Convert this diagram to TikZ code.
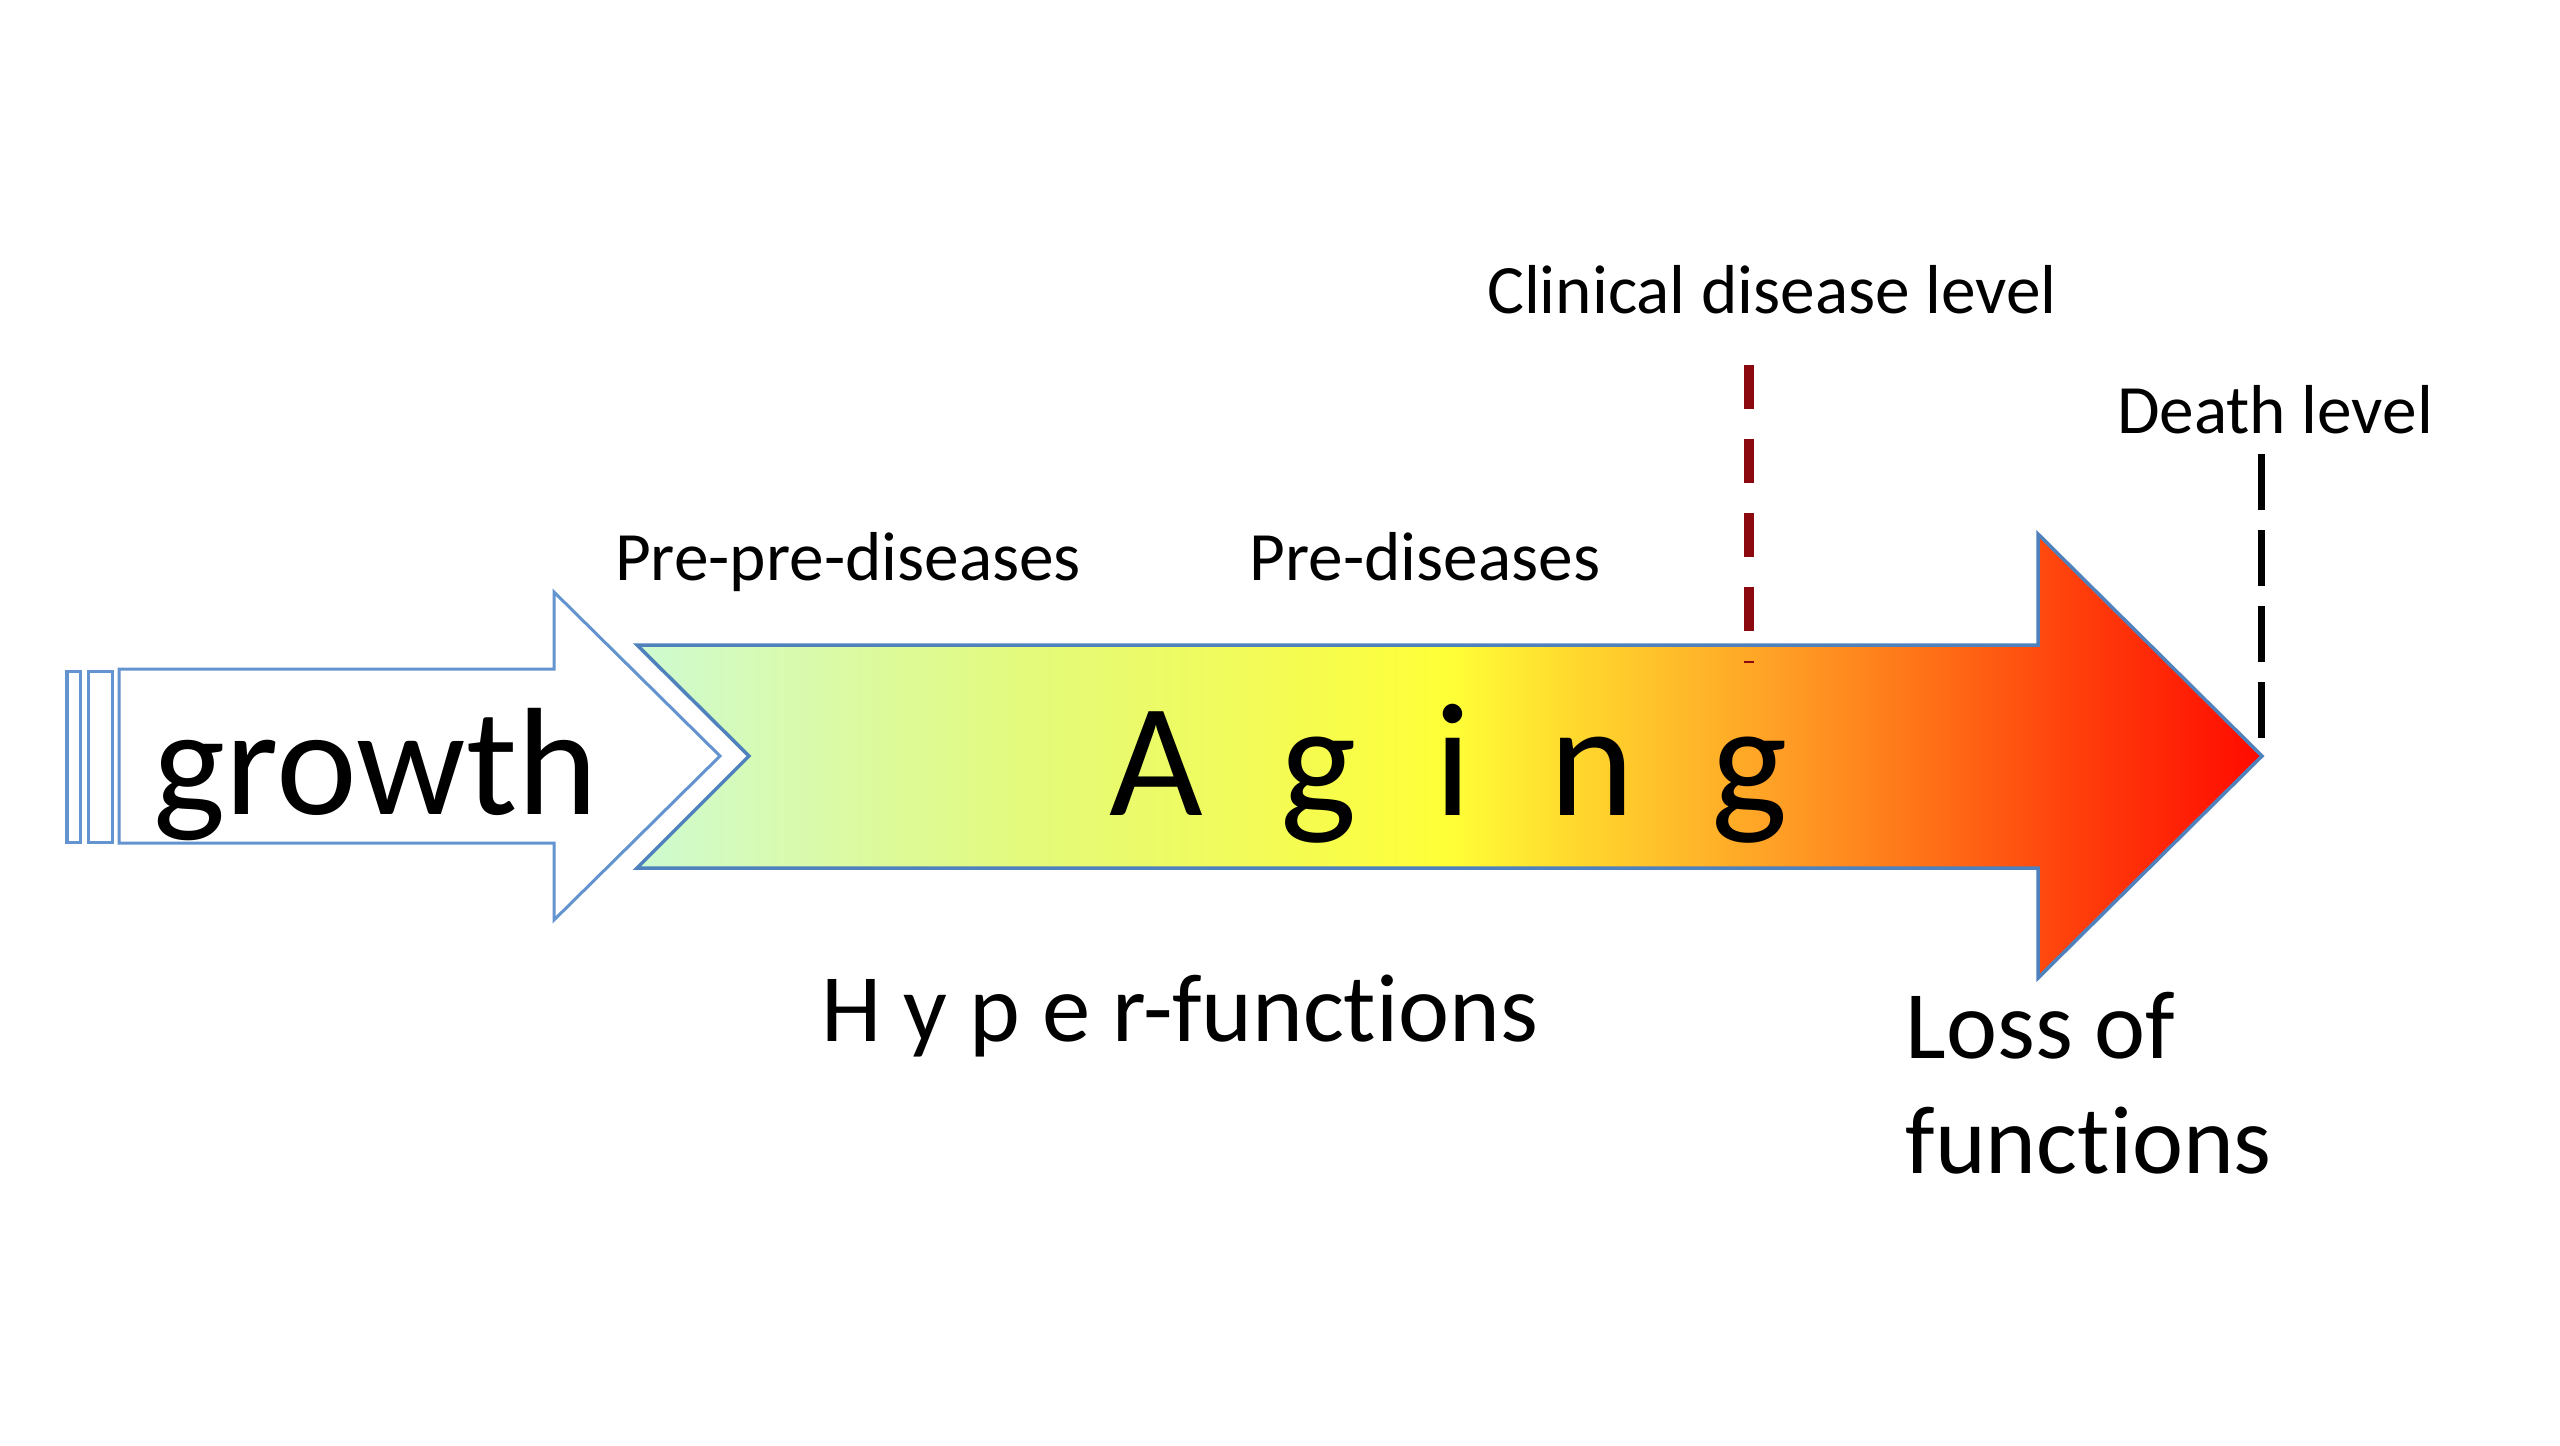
\documentclass[tikz,border=0pt]{standalone}
\usepackage{fontspec}
\setmainfont{Carlito}[Ligatures={NoCommon,NoContextual}]
\definecolor{arrowblue}{RGB}{79,129,189}
\definecolor{lineblue}{RGB}{100,148,208}
\definecolor{clinicred}{RGB}{140,10,15}
\definecolor{agA}{RGB}{205,250,208}
\definecolor{agB}{RGB}{215,250,180}
\definecolor{agC}{RGB}{228,250,120}
\definecolor{agD}{RGB}{242,251,88}
\definecolor{agE}{RGB}{255,255,55}
\definecolor{agF}{RGB}{255,215,45}
\definecolor{agG}{RGB}{255,160,38}
\definecolor{agH}{RGB}{255,110,22}
\definecolor{agJ}{RGB}{255,65,12}
\definecolor{agK}{RGB}{255,10,0}
\pgfdeclarehorizontalshading{agingshade}{100bp}{color(0bp)=(agA); color(25bp)=(agA);
  color(29bp)=(agB); color(37.5bp)=(agC); color(44bp)=(agD); color(50bp)=(agE); color(54bp)=(agF);
  color(60bp)=(agG); color(65bp)=(agH); color(69bp)=(agJ); color(75bp)=(agK); color(100bp)=(agK)}

\begin{document}
\begin{tikzpicture}[x=0.01cm, y=-0.01cm, inner sep=0pt]
	\tikzstyle{every node}=[align=left]
	\tikzstyle{small label}=[anchor=base, font=\fontsize{19.7}{24}\selectfont]
	\tikzstyle{mid label}=[font=\fontsize{27.5}{32.7}\selectfont]
	\useasboundingbox (0,0) rectangle (2560,1445);

	% growth arrow
	\draw[lineblue, line width=0.03cm, fill=white] (67,671) rectangle (80,842);
	\draw[lineblue, line width=0.03cm, fill=white] (88,671) rectangle (112,842);
	\draw[lineblue, line width=0.03cm, fill=white, line join=miter]
		(119,669) -- (554,669) -- (554,592) -- (720,756) -- (554,920) -- (554,843) -- (119,843) -- cycle;

	% aging arrow
	\shade[shading=agingshade, draw=arrowblue, line width=0.035cm]
		(637,645) -- (2038,645) -- (2038,534) -- (2262,756) -- (2038,978) -- (2038,868) -- (637,868) -- (749,756) -- cycle;

	\node[anchor=base, font=\fontsize{43.5}{50}\selectfont] (growth) at (376,814) {growth};
	\node[anchor=base, font=\fontsize{46}{54}\selectfont] (aging) at (1449,815)
		{A\hspace{0.48em}g\hspace{0.48em}i\hspace{0.48em}n\hspace{0.48em}g};

	\node[small label] (prepre) at (848,580) {Pre-pre-diseases};
	\node[small label] (pre) at (1425,580) {Pre-diseases};
	\node[small label] (clinical) at (1772,313) {Clinical disease level};
	\node[small label] (death) at (2275,433) {Death level};

	\node[mid label, anchor=base] (hyper) at (1180,1041) {H y p e r-functions};
	\node[mid label, anchor=base west] (loss) at (1905,1173) {Loss of\\functions};

	% level lines
	\coordinate (clinicaltop) at (1749,365);
	\coordinate (clinicalend) at (1749,663);
	\coordinate (deathtop) at (2261,454);
	\coordinate (deathend) at (2261,740);
	\draw[clinicred, line width=0.1cm, dash pattern=on 0.44cm off 0.30cm] (clinicaltop) -- (clinicalend);
	\draw[black, line width=0.07cm, dash pattern=on 0.56cm off 0.20cm] (deathtop) -- (deathend);
\end{tikzpicture}
\end{document}
